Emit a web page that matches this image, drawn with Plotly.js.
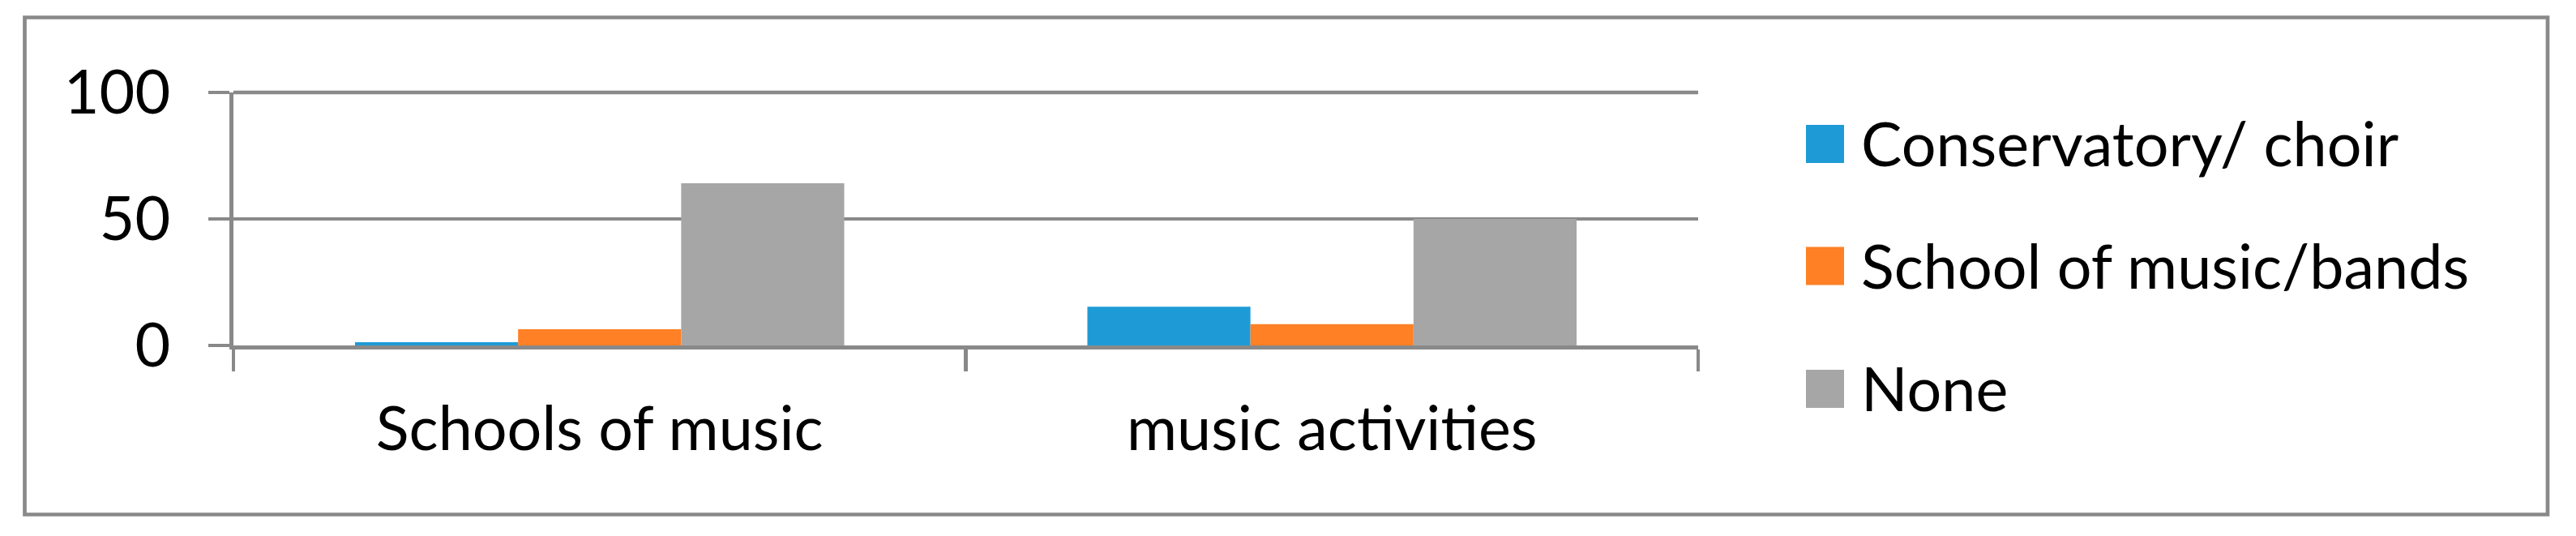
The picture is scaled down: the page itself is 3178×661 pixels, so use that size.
<!DOCTYPE html>
<html>
<head>
<meta charset="utf-8">
<script src="https://cdn.plot.ly/plotly-3.0.1.min.js"></script>
<style>html,body{margin:0;padding:0;background:#fff;}#chart{width:3178px;height:661px;}</style>
</head>
<body>
<div id="chart"></div>
<script>
var categories = ["Schools of music", "music activities"];
var seriesNames = ["Conservatory/ choir", "School of music/bands", "None"];
var conservatoryChoir = [1.3, 15.3];
var schoolOfMusicBands = [6.4, 8.4];
var noneValues = [64.1, 50];
var yTickVals = [0, 50, 100];
var yTickText = ["0", "50", "100"];

var colors = ["#1E9BD7", "#FF8025", "#A6A6A6"];
var seriesValues = [conservatoryChoir, schoolOfMusicBands, noneValues];
var gridCol = "#898989";
var FONT = "Lato, 'Open Sans', sans-serif";
var FS = 75.5;

var W = 3178, H = 661;
var mL = 288, mR = W - 2095, mT = 114, mB = H - 426;
var pw = W - mL - mR, ph = H - mT - mB;
function px2x(p){ return (p - mL) / pw; }
function py2y(p){ return (H - mB - p) / ph; }

var traces = seriesNames.map(function(n, i){
  return {type: "bar", name: n, x: categories, y: seriesValues[i],
          marker: {color: colors[i], line: {width: 0}}, showlegend: false, hoverinfo: "skip"};
});

var shapes = [{
  type: "rect", xref: "paper", yref: "paper",
  x0: px2x(30.5), x1: px2x(3143), y0: py2y(634.5), y1: py2y(21.5),
  line: {color: gridCol, width: 4.7}, fillcolor: "rgba(0,0,0,0)", layer: "below"
}, {
  // top gridline (at the top of the range, which Plotly drops from the grid)
  type: "line", xref: "paper", yref: "paper", x0: 0, x1: 1, y0: 1, y1: 1,
  line: {color: gridCol, width: 4.7}, layer: "below"
}];
var annotations = [];
var legendY = [177.5, 328, 479.5];
seriesNames.forEach(function(n, i){
  shapes.push({type: "rect", xref: "paper", yref: "paper",
    x0: px2x(2228), x1: px2x(2275), y0: py2y(legendY[i] + 23.5), y1: py2y(legendY[i] - 23.5),
    line: {width: 0}, fillcolor: colors[i]});
  annotations.push({xref: "paper", yref: "paper", x: px2x(2294), y: py2y(legendY[i] - 2),
    xanchor: "left", yanchor: "middle", showarrow: false, text: n,
    font: {family: FONT, size: FS, color: "#000"}});
});

var layout = {
  width: W, height: H,
  margin: {l: mL, r: mR, t: mT, b: mB, pad: 0},
  paper_bgcolor: "#fff", plot_bgcolor: "#fff",
  font: {family: FONT, size: FS, color: "#000"},
  barmode: "group", bargap: 0.332, bargroupgap: 0,
  showlegend: false,
  xaxis: {type: "category", showgrid: false, zeroline: false,
    showline: true, linecolor: gridCol, linewidth: 4.7,
    ticks: "outside", tickson: "boundaries", ticklen: 27, tickwidth: 4.7, tickcolor: gridCol,
    tickfont: {family: FONT, size: FS, color: "#000"}, ticklabelstandoff: 34, automargin: false, fixedrange: true},
  yaxis: {range: [0, 100], tickvals: yTickVals, ticktext: yTickText,
    showgrid: true, gridcolor: gridCol, gridwidth: 4.7, zeroline: false,
    showline: true, linecolor: gridCol, linewidth: 4.7,
    ticks: "outside", ticklen: 26, tickwidth: 4.7, tickcolor: gridCol,
    tickfont: {family: FONT, size: FS, color: "#000"}, ticklabelstandoff: 32, automargin: false, fixedrange: true},
  shapes: shapes, annotations: annotations
};
Plotly.newPlot("chart", traces, layout, {staticPlot: true, displayModeBar: false});
</script>
</body>
</html>
